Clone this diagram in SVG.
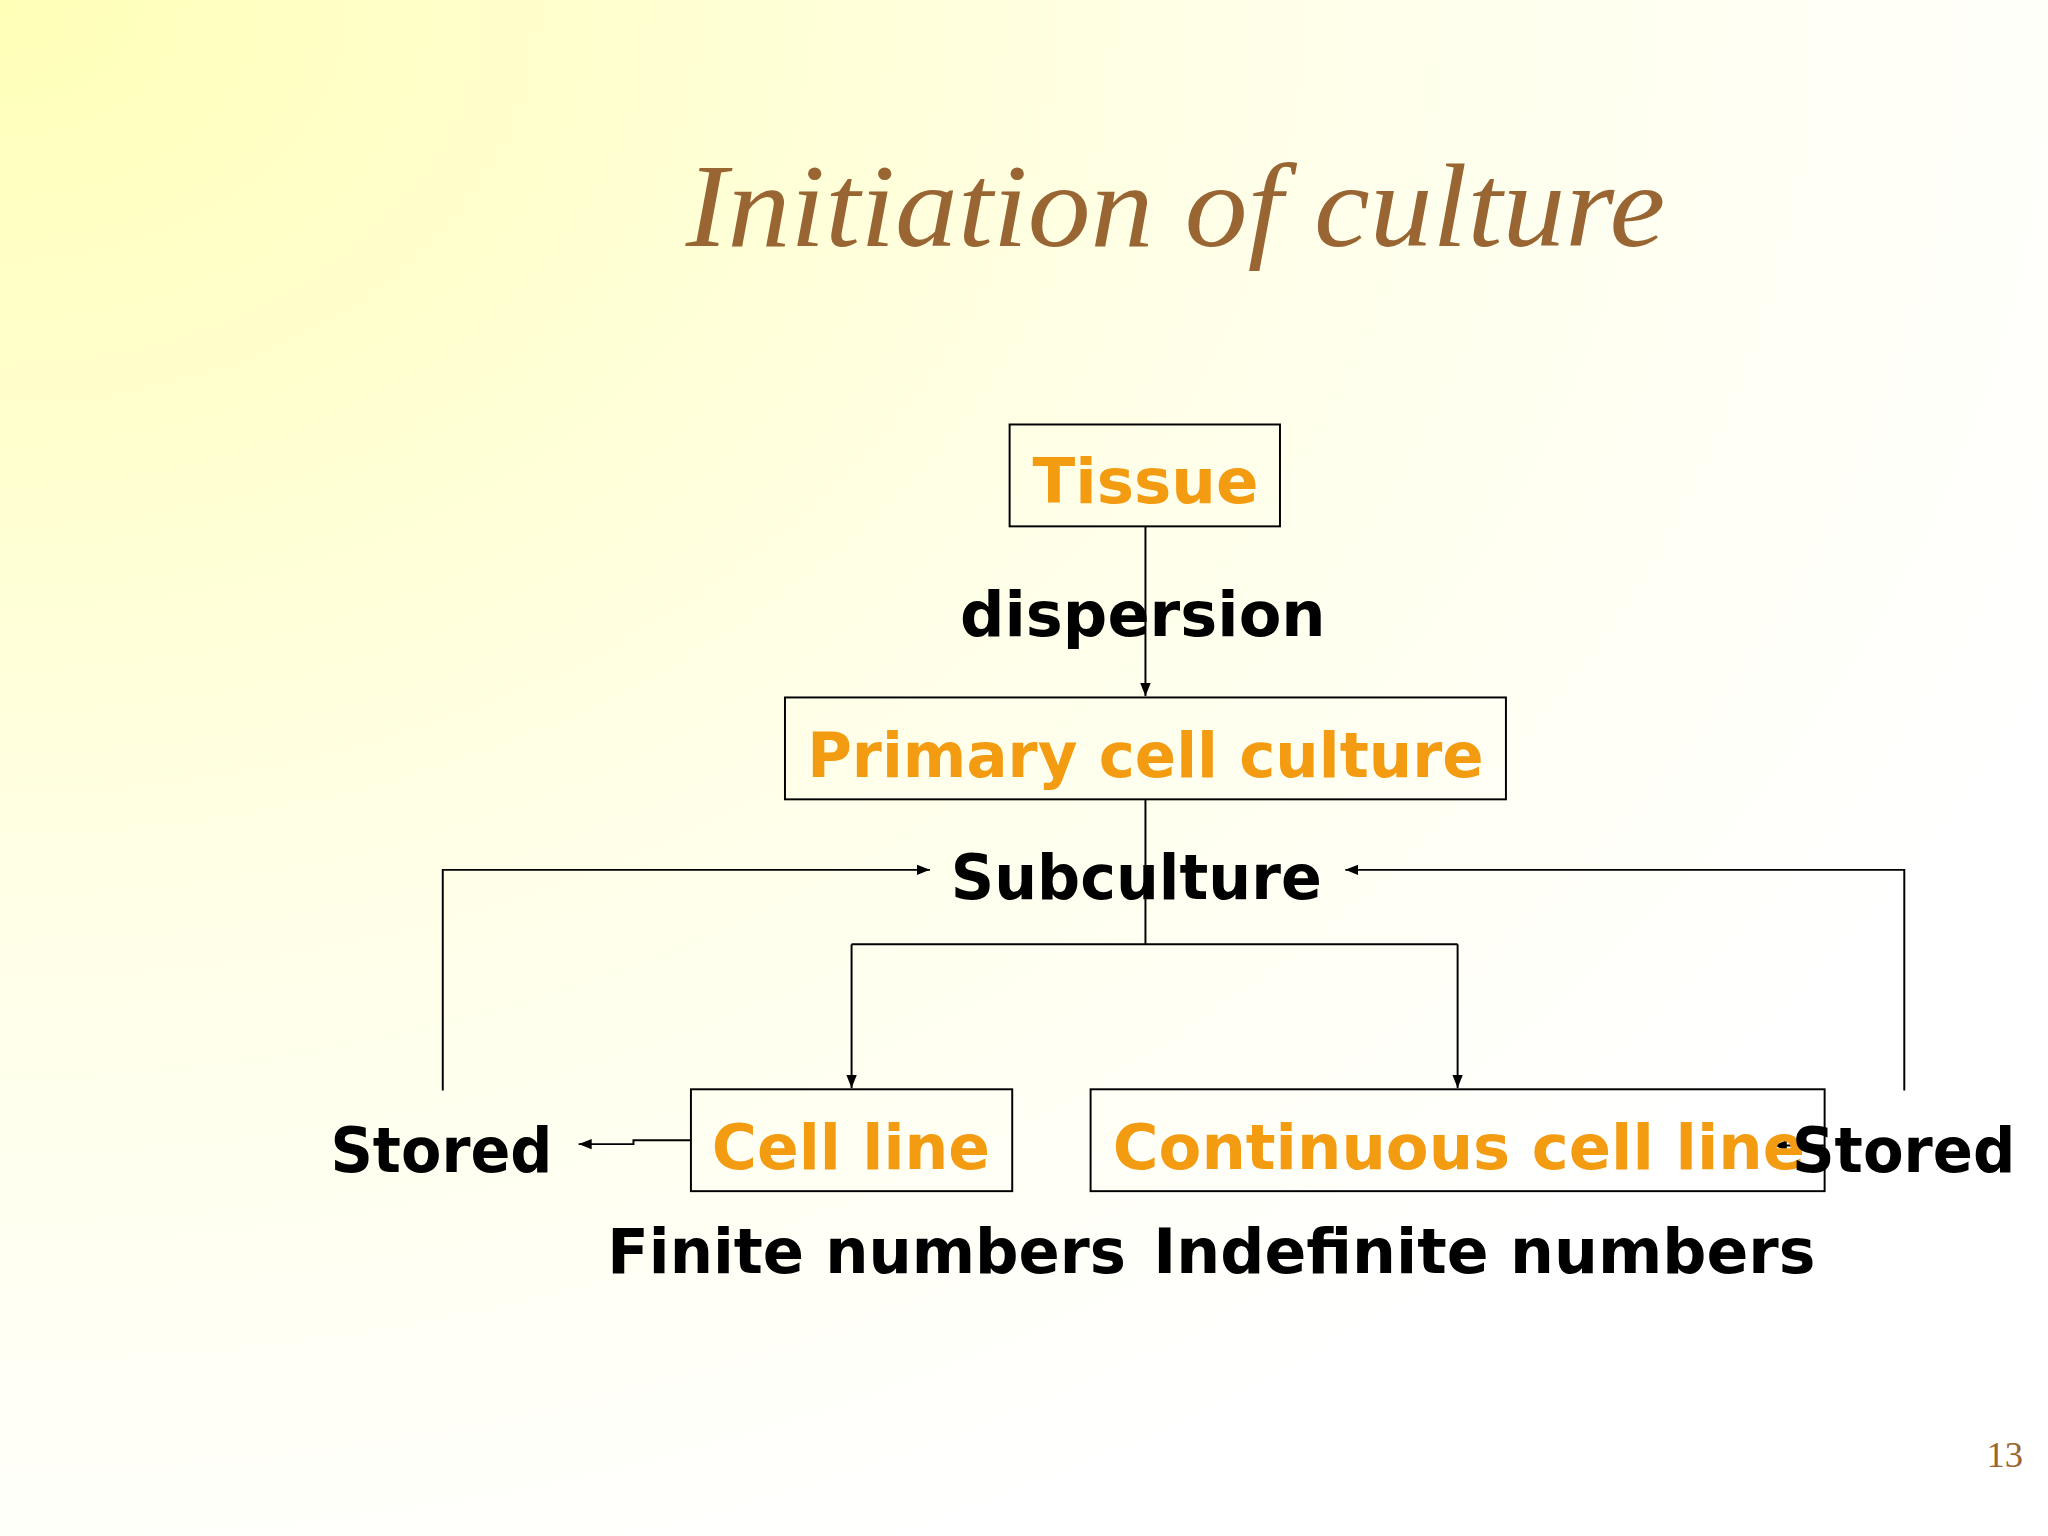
<svg xmlns="http://www.w3.org/2000/svg" width="2048" height="1536" viewBox="0 0 2048 1536">
<defs>
<radialGradient id="bg" cx="0" cy="0" r="1.1" gradientUnits="objectBoundingBox">
<stop offset="0" stop-color="#FFFFB8"/><stop offset="0.55" stop-color="#FFFFE8"/><stop offset="1" stop-color="#FFFFFF"/>
</radialGradient>
<marker id="ah" viewBox="0 0 10 10" refX="10" refY="5" markerWidth="10" markerHeight="10" markerUnits="userSpaceOnUse" orient="auto"><path d="M0,1 L10,5 L0,9 z" fill="#000"/></marker>
<style>
.box{fill:none;stroke:#000;stroke-width:1.5}
.o{fill:#F39C12;font-family:"DejaVu Sans",sans-serif;font-weight:bold;font-size:48px}
.k{fill:#000;font-family:"DejaVu Sans",sans-serif;font-weight:bold;font-size:48px}
.c{fill:none;stroke:#000;stroke-width:1.5;marker-end:url(#ah)}
.n{fill:none;stroke:#000;stroke-width:1.5}
</style>
</defs>
<rect width="2048" height="1536" fill="url(#bg)"/>
<g transform="scale(1.3061)">
<text x="900" y="188" text-anchor="middle" font-family="Liberation Serif,serif" font-style="italic" font-size="90" fill="#996633" textLength="750" lengthAdjust="spacingAndGlyphs">Initiation of culture</text>
<g id="connectors">
<path class="c" d="M877,403 V533"/>
<path class="n" d="M877,612 V723"/>
<path class="n" d="M652,723 H1116"/>
<path class="c" d="M652,723 V833"/>
<path class="c" d="M1116,723 V833"/>
<path class="c" d="M339,835 V666 H712"/>
<path class="c" d="M1458,835 V666 H1030"/>
<path class="c" d="M529,873 H485 V876 H443"/>
<path class="c" d="M1397,877 H1358"/>
</g>
<g id="tissue"><rect class="box" x="773" y="325" width="207" height="78"/><text class="o" x="877" y="385" text-anchor="middle" textLength="173" lengthAdjust="spacingAndGlyphs">Tissue</text></g>
<g id="dispersion"><text class="k" x="735" y="487" textLength="280" lengthAdjust="spacingAndGlyphs">dispersion</text></g>
<g id="primary"><rect class="box" x="601" y="534" width="552" height="78"/><text class="o" x="618" y="595" textLength="518" lengthAdjust="spacingAndGlyphs">Primary cell culture</text></g>
<g id="subculture"><text class="k" x="728" y="688" textLength="284" lengthAdjust="spacingAndGlyphs">Subculture</text></g>
<g id="cellline"><rect class="box" x="529" y="834" width="246" height="78"/><text class="o" x="545" y="895" textLength="213" lengthAdjust="spacingAndGlyphs">Cell line</text></g>
<g id="continuous"><rect class="box" x="835" y="834" width="562" height="78"/><text class="o" x="852" y="895" textLength="530" lengthAdjust="spacingAndGlyphs">Continuous cell line</text></g>
<g id="stored-left"><text class="k" x="253" y="897" textLength="170" lengthAdjust="spacingAndGlyphs">Stored</text></g>
<g id="stored-right"><text class="k" x="1372" y="897" textLength="171" lengthAdjust="spacingAndGlyphs">Stored</text></g>
<g id="finite"><text class="k" x="465" y="975" textLength="397" lengthAdjust="spacingAndGlyphs">Finite numbers</text></g>
<g id="indefinite"><text class="k" x="883" y="975" textLength="507" lengthAdjust="spacingAndGlyphs">Indefinite numbers</text></g>
<text x="1535" y="1123" text-anchor="middle" font-family="Liberation Serif,serif" font-size="28" fill="#996633">13</text>
</g>
</svg>
